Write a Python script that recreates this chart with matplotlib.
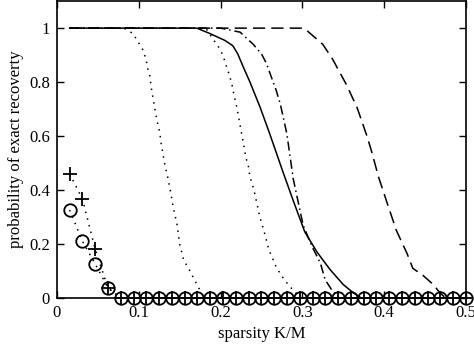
import numpy as np
import matplotlib
matplotlib.use("Agg")
import matplotlib.pyplot as plt

plt.rcParams['font.family'] = ['Liberation Serif', 'DejaVu Serif']

# Curve data
solid_x = [0.0156, 0.165, 0.171, 0.187, 0.205, 0.215, 0.221, 0.228, 0.236, 0.248, 0.260, 0.276,
           0.289, 0.303, 0.318, 0.334, 0.350, 0.362, 0.372, 0.5]
solid_y = [1.0, 1.0, 1.0, 0.98, 0.955, 0.935, 0.905, 0.855, 0.80, 0.71, 0.61, 0.47,
           0.36, 0.245, 0.17, 0.105, 0.05, 0.02, 0.0, 0.0]

dashdot_x = [0.0156, 0.20, 0.224, 0.240, 0.250, 0.256, 0.262, 0.268, 0.273, 0.281, 0.289,
             0.301, 0.312, 0.322, 0.328, 0.336, 0.345, 0.5]
dashdot_y = [1.0, 1.0, 0.985, 0.94, 0.905, 0.87, 0.82, 0.77, 0.72, 0.61, 0.44,
             0.27, 0.19, 0.13, 0.067, 0.03, 0.0, 0.0]

dashed_x = [0.0156, 0.30, 0.306, 0.325, 0.337, 0.354, 0.367, 0.379, 0.385, 0.393, 0.405, 0.415, 0.428,
            0.435, 0.447, 0.46, 0.468, 0.475, 0.5]
dashed_y = [1.0, 1.0, 0.99, 0.94, 0.885, 0.79, 0.705, 0.60, 0.54, 0.45, 0.34, 0.25, 0.165,
            0.11, 0.085, 0.05, 0.02, 0.0, 0.0]

dot1_x = [0.0156, 0.082, 0.093, 0.099, 0.105, 0.109, 0.111, 0.114, 0.115, 0.117, 0.119, 0.121, 0.123,
          0.126, 0.127, 0.129, 0.131, 0.133, 0.136, 0.138, 0.142, 0.147, 0.150, 0.155, 0.161, 0.166,
          0.172, 0.180, 0.5]
dot1_y = [1.0, 1.0, 0.98, 0.95, 0.92, 0.885, 0.85, 0.82, 0.785, 0.75, 0.715, 0.68, 0.65,
          0.61, 0.58, 0.545, 0.51, 0.48, 0.44, 0.41, 0.34, 0.27, 0.20, 0.14, 0.11, 0.08,
          0.045, 0.0, 0.0]

dot2_x = [0.0156, 0.182, 0.193, 0.200, 0.204, 0.207, 0.211, 0.214, 0.216, 0.219, 0.221, 0.223, 0.227,
          0.231, 0.234, 0.236, 0.239, 0.242, 0.247, 0.250, 0.253, 0.256, 0.259, 0.268, 0.274, 0.280,
          0.287, 0.298, 0.5]
dot2_y = [1.0, 1.0, 0.95, 0.92, 0.89, 0.86, 0.825, 0.79, 0.76, 0.72, 0.69, 0.655, 0.59,
          0.52, 0.49, 0.45, 0.42, 0.385, 0.315, 0.28, 0.25, 0.215, 0.18, 0.115, 0.085, 0.06,
          0.035, 0.0, 0.0]

k = np.arange(1, 33)
marker_x = k / 64
plus_y = [0.46, 0.367, 0.18, 0.037] + [0.0] * 28
circ_y = [0.326, 0.21, 0.126, 0.037] + [0.0] * 28

xticks = [0, 0.1, 0.2, 0.3, 0.4, 0.5]
xticklabels = ['0', '0.1', '0.2', '0.3', '0.4', '0.5']
yticks = [0, 0.2, 0.4, 0.6, 0.8, 1.0]
yticklabels = ['0', '0.2', '0.4', '0.6', '0.8', '1']

fig = plt.figure(figsize=(4.74, 3.48), dpi=100)
ax = fig.add_axes([0.120, 0.1437, 0.863, 0.853])

lw = 1.1
ax.plot(dot1_x, dot1_y, color='black', linestyle=(0, (1, 3.5)), linewidth=lw)
ax.plot(dot2_x, dot2_y, color='black', linestyle=(0, (1, 3.5)), linewidth=lw)
ax.plot(dashdot_x, dashdot_y, color='black', linestyle=(0, (6, 2.5, 1, 2.5)), linewidth=lw)
ax.plot(dashed_x, dashed_y, color='black', linestyle=(0, (8, 4)), linewidth=lw)
ax.plot(solid_x, solid_y, color='black', linestyle='-', linewidth=lw)
ax.plot(marker_x, circ_y, color='black', linestyle=(0, (1, 3.5)), linewidth=lw,
        marker='o', markersize=9, markerfacecolor='none', markeredgewidth=1.3, clip_on=False)
ax.plot(marker_x, plus_y, color='black', linestyle=(0, (1, 3.5)), linewidth=lw,
        marker='+', markersize=10, markeredgewidth=1.3, clip_on=False)

ax.set_xlim(0, 0.5)
ax.set_ylim(0, 1.1)
ax.set_xticks(xticks)
ax.set_xticklabels(xticklabels)
ax.set_yticks(yticks)
ax.set_yticklabels(yticklabels)
ax.tick_params(direction='in', top=True, right=True, labelsize=12, length=5, width=1, pad=5)
for s in ax.spines.values():
    s.set_linewidth(1.2)
ax.set_xlabel('sparsity K/M', fontsize=12, labelpad=4)
ax.set_ylabel('probability of exact recoverty', fontsize=12, labelpad=4)

fig.savefig('out.png', dpi=100)
